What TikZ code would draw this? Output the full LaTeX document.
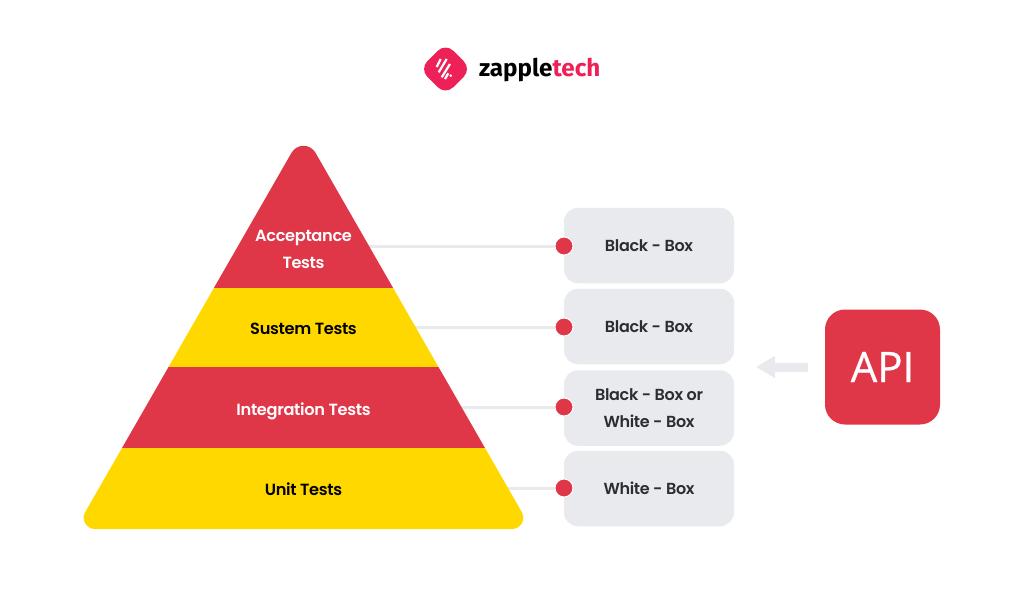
\documentclass[tikz,border=0pt]{standalone}
\usepackage{fontspec}
\setmainfont{Open Sans}
\newfontfamily\medfont{Poppins SemiBold}[LetterSpace=-2]
\newfontfamily\apifont{Open Sans}[FakeBold=0.6]
\newfontfamily\logofont{Fira Sans}
\usetikzlibrary{arrows.meta}
\definecolor{apired}{HTML}{DF3648}
\definecolor{pyryellow}{HTML}{FFD800}
\definecolor{boxgrey}{HTML}{E8EAED}
\definecolor{logopink}{HTML}{EE2058}
\definecolor{inkdark}{HTML}{2A2E33}
\tikzset{
  x=1pt,y=-1pt,
  boxnode/.style={fill=boxgrey,rounded corners=14pt,minimum width=170pt,minimum height=75.5pt,inner sep=0pt,text=inkdark,font=\fontsize{16}{27}\selectfont\medfont,align=center},
  dotnode/.style={circle,fill=apired,draw=white,line width=1pt,minimum size=18pt,inner sep=0pt},
  leader/.style={draw=boxgrey,line width=3pt},
  whitelabel/.style={text=white,font=\fontsize{16.2}{27}\selectfont\medfont,align=center,inner sep=0pt},
  blacklabel/.style={text=black,font=\fontsize{16.2}{27}\selectfont\medfont,align=center,inner sep=0pt},
  logoslash/.style={draw=white,line width=2.2pt},
}
\begin{document}
\begin{tikzpicture}
\useasboundingbox (0,0) rectangle (1024,590);
\fill[white] (0,0) rectangle (1024,590);
% logo
\fill[logopink,rounded corners=11pt] (445.5,43) -- (471.5,69) -- (445.5,95) -- (419.5,69) -- cycle;
\draw[logoslash] (436.7,67) -- (440.7,59);
\draw[logoslash] (438.7,72.3) -- (446.7,59);
\draw[logoslash] (441.7,77.3) -- (450,64);
\draw[logoslash] (445,79) -- (448.3,73.3);
\draw[logoslash] (450.2,76.5) -- (451.2,74.8);
\node[anchor=base west,inner sep=0pt,font=\fontsize{24.2}{27}\selectfont\logofont\bfseries] (logotext) at (479,76) {zapple\textcolor{logopink}{tech}};
% boxes
\node[boxnode] (b1) at (649,245.5) {\raisebox{-2.5pt}{Black - Box}};
\node[boxnode] (b2) at (649,326.5) {\raisebox{-2.5pt}{Black - Box}};
\node[boxnode] (b3) at (649,408) {Black - Box or\\White - Box};
\node[boxnode] (b4) at (649,488.5) {\raisebox{-2pt}{White - Box}};
% dots
\node[dotnode] (d1) at (564,246) {};
\node[dotnode] (d2) at (564,327) {};
\node[dotnode] (d3) at (564,407) {};
\node[dotnode] (d4) at (564,488) {};
% leader start points inside the pyramid
\coordinate (p1) at (340,246);
\coordinate (p2) at (400,327);
\coordinate (p3) at (450,407);
\coordinate (p4) at (495,488);
\path[leader] (p1) -- (d1);
\path[leader] (p2) -- (d2);
\path[leader] (p3) -- (d3);
\path[leader] (p4) -- (d4);
% pyramid
\begin{scope}
\clip (291.5,152.8) .. controls (296.84,143.5) and (310.16,143.5) .. (315.5,152.8)
  -- (521.8,512.1) .. controls (526.1,519.6) and (520.7,529) .. (512,529)
  -- (95,529) .. controls (86.3,529) and (80.9,519.6) .. (85.2,512.1) -- cycle;
\fill[apired] (0,130) rectangle (600,288);
\fill[pyryellow] (0,288) rectangle (600,367);
\fill[apired] (0,367) rectangle (600,448);
\fill[pyryellow] (0,448) rectangle (600,531);
\end{scope}
\node[whitelabel] (t1) at (303.5,249.5) {Acceptance\\Tests};
\node[blacklabel] (t2) at (303.5,329) {Sustem Tests};
\node[whitelabel] (t3) at (303.5,411) {Integration Tests};
\node[blacklabel] (t4) at (303.5,489) {Unit Tests};
% API
\node[fill=apired,rounded corners=20pt,minimum width=115pt,minimum height=115pt,inner sep=0pt,text=white,font=\fontsize{42}{42}\selectfont\apifont] (api) at (882.5,367) {\raisebox{-2pt}{API}};
\coordinate (apitarget) at (734,367);
\draw[draw=boxgrey,line width=9pt,-{Triangle[length=19pt,width=21pt]},shorten <=17pt,shorten >=22pt] (api) -- (apitarget);
\end{tikzpicture}
\end{document}
